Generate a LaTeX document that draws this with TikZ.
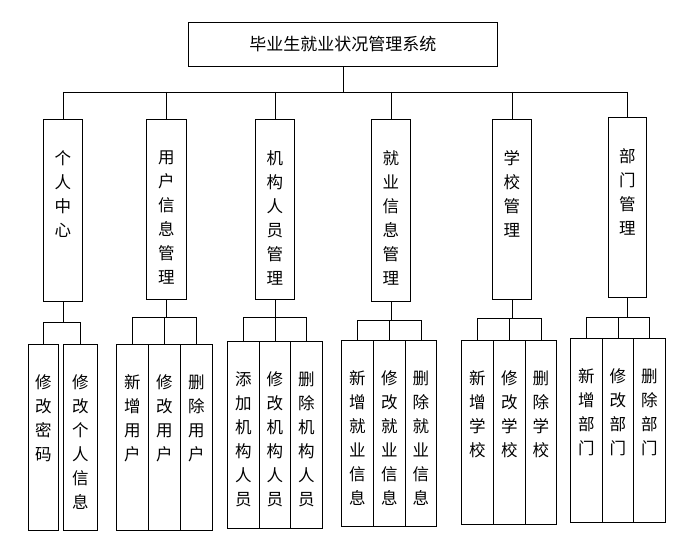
\documentclass[tikz,border=0pt]{standalone}
\usepackage{fontspec}
\newfontfamily\cjk{Noto Sans CJK SC}
\tikzset{
  box/.style={draw, thick, inner sep=0pt, anchor=north west},
  txt/.style={font=\cjk\fontsize{16.5}{24}\selectfont, align=center, anchor=north}
}
% box with vertical text: name, left, top, width, height, text offset, text
\newcommand{\vbx}[7]{%
  \node[box, minimum width=#4pt, minimum height=#5pt] (#1) at (#2,#3) {};
  \node[txt] (#1t) at ([yshift=-#6pt]#1.north) {#7};}
\begin{document}
\begin{tikzpicture}[x=1pt,y=-1pt]
\useasboundingbox (0,0) rectangle (682,537);
\node[box, minimum width=309pt, minimum height=44pt] (root) at (188,22) {};
\node[font=\cjk\fontsize{17}{20}\selectfont] (roott) at (root.center) {毕业生就业状况管理系统};
% second level
\vbx{a}{43}{119}{39}{182}{28}{个\\人\\中\\心}
\vbx{b}{146}{119}{40}{180}{28}{用\\户\\信\\息\\管\\理}
\vbx{c}{255}{119}{39}{180}{28}{机\\构\\人\\员\\管\\理}
\vbx{d}{371}{119}{39}{182}{28}{就\\业\\信\\息\\管\\理}
\vbx{e}{492}{119}{39}{180}{28}{学\\校\\管\\理}
\vbx{f}{608}{117}{38}{180}{28}{部\\门\\管\\理}
\coordinate (bus) at (0,92);
\draw (root.south) -- (root.south |- bus);
\draw (a.north |- bus) -- (f.north |- bus);
\foreach \n in {a,b,c,d,e,f} \draw (\n.north |- bus) -- (\n.north);
% leaves
\vbx{a1}{28}{344}{30}{186}{27}{修\\改\\密\\码}
\vbx{a2}{63}{344}{34}{186}{27}{修\\改\\个\\人\\信\\息}
\vbx{b1}{116}{344}{32}{186}{27}{新\\增\\用\\户}
\vbx{b2}{148}{344}{32}{186}{27}{修\\改\\用\\户}
\vbx{b3}{180}{344}{32}{186}{27}{删\\除\\用\\户}
\vbx{c1}{227}{341}{32}{187}{27}{添\\加\\机\\构\\人\\员}
\vbx{c2}{259}{341}{31}{187}{27}{修\\改\\机\\构\\人\\员}
\vbx{c3}{290}{341}{32}{187}{27}{删\\除\\机\\构\\人\\员}
\vbx{d1}{341}{340}{32}{186}{27}{新\\增\\就\\业\\信\\息}
\vbx{d2}{373}{340}{32}{186}{27}{修\\改\\就\\业\\信\\息}
\vbx{d3}{405}{340}{31}{186}{27}{删\\除\\就\\业\\信\\息}
\vbx{e1}{461}{340}{32}{184}{27}{新\\增\\学\\校}
\vbx{e2}{493}{340}{32}{184}{27}{修\\改\\学\\校}
\vbx{e3}{525}{340}{31}{184}{27}{删\\除\\学\\校}
\vbx{f1}{570}{338}{32}{184}{27}{新\\增\\部\\门}
\vbx{f2}{602}{338}{31}{184}{27}{修\\改\\部\\门}
\vbx{f3}{633}{338}{32}{184}{27}{删\\除\\部\\门}
% group connectors
\foreach \p/\first/\last/\y in {a/a1/a2/322, b/b1/b3/317, c/c1/c3/317, d/d1/d3/320, e/e1/e3/318, f/f1/f3/317} {
  \coordinate (\p bus) at (0,\y);
  \draw (\p.south) -- (\p.south |- \p bus);
  \draw (\first.north |- \p bus) -- (\last.north |- \p bus);
}
\foreach \n/\p in {a1/a,a2/a,b1/b,b2/b,b3/b,c1/c,c2/c,c3/c,d1/d,d2/d,d3/d,e1/e,e2/e,e3/e,f1/f,f2/f,f3/f}
  \draw (\n.north |- \p bus) -- (\n.north);
\end{tikzpicture}
\end{document}
